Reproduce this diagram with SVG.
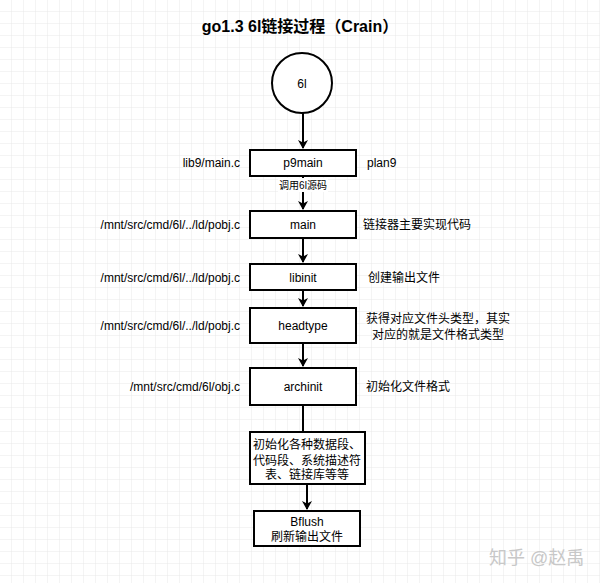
<svg xmlns="http://www.w3.org/2000/svg" width="600" height="583" viewBox="0 0 600 583">
<defs>
<pattern id="g" width="12" height="12" patternUnits="userSpaceOnUse"><path d="M12 0V12H0" fill="none" stroke="#e8e8e8" stroke-width="1"/></pattern>
<marker id="a" markerWidth="10" markerHeight="10" refX="8" refY="5" orient="auto" markerUnits="userSpaceOnUse"><path d="M0 0L9 5L0 10L2.5 5Z" fill="#000"/></marker>
<style>
text{font-family:"Liberation Sans","Noto Sans CJK SC",sans-serif;font-size:12px;fill:#000}
.b{fill:#fff;stroke:#000;stroke-width:2}
.c{text-anchor:middle}
.l{text-anchor:end}
.e{stroke:#000;stroke-width:2;fill:none}
</style>
</defs>
<rect width="600" height="583" fill="#fff"/>
<rect width="600" height="583" fill="url(#g)"/>
<text x="300" y="32" class="c" style="font-size:16px;font-weight:bold">go1.3 6l链接过程（Crain）</text>
<g id="connectors">
<path class="e" d="M303 113V148" marker-end="url(#a)"/>
<path class="e" d="M303 176V209" marker-end="url(#a)"/>
<path class="e" d="M303 238V262" marker-end="url(#a)"/>
<path class="e" d="M303 290V306" marker-end="url(#a)"/>
<path class="e" d="M303 343V366" marker-end="url(#a)"/>
<path class="e" d="M303 405V432"/>
<path class="e" d="M307 484V509" marker-end="url(#a)"/>
<rect x="278" y="178" width="50" height="14" fill="#fff"/>
<text x="303" y="189" class="c" style="font-size:10px">调用6l源码</text>
</g>
<g id="n6l"><circle cx="302" cy="83" r="30" class="b"/><text x="302" y="88" class="c">6l</text></g>
<g id="p9main"><rect x="250" y="150" width="106" height="26" class="b"/><text x="303" y="167" class="c">p9main</text>
<text x="240" y="167" class="l">lib9/main.c</text><text x="367" y="167">plan9</text></g>
<g id="main"><rect x="250" y="211" width="106" height="27" class="b"/><text x="303" y="229" class="c">main</text>
<text x="240" y="229" class="l">/mnt/src/cmd/6l/../ld/pobj.c</text><text x="363" y="229">链接器主要实现代码</text></g>
<g id="libinit"><rect x="250" y="264" width="106" height="26" class="b"/><text x="303" y="282" class="c">libinit</text>
<text x="240" y="282" class="l">/mnt/src/cmd/6l/../ld/pobj.c</text><text x="368" y="282">创建输出文件</text></g>
<g id="headtype"><rect x="250" y="308" width="106" height="35" class="b"/><text x="303" y="330" class="c">headtype</text>
<text x="240" y="330" class="l">/mnt/src/cmd/6l/../ld/pobj.c</text><text x="366" y="323">获得对应文件头类型，其实</text><text x="372" y="339">对应的就是文件格式类型</text></g>
<g id="archinit"><rect x="250" y="368" width="106" height="37" class="b"/><text x="303" y="391" class="c">archinit</text>
<text x="240" y="391" class="l">/mnt/src/cmd/6l/obj.c</text><text x="366" y="391">初始化文件格式</text></g>
<g id="init"><rect x="250" y="432" width="115" height="52" class="b"/><text x="307" y="449" class="c">初始化各种数据段、</text><text x="307" y="465" class="c">代码段、系统描述符</text><text x="307" y="479" class="c">表、链接库等等</text></g>
<g id="bflush"><rect x="254" y="511" width="106" height="35" class="b"/><text x="307" y="526" class="c">Bflush</text><text x="307" y="541" class="c">刷新输出文件</text></g>
<text x="489" y="564" style="font-size:18px;fill:#c8c8c8">知乎 @赵禹</text>
</svg>
